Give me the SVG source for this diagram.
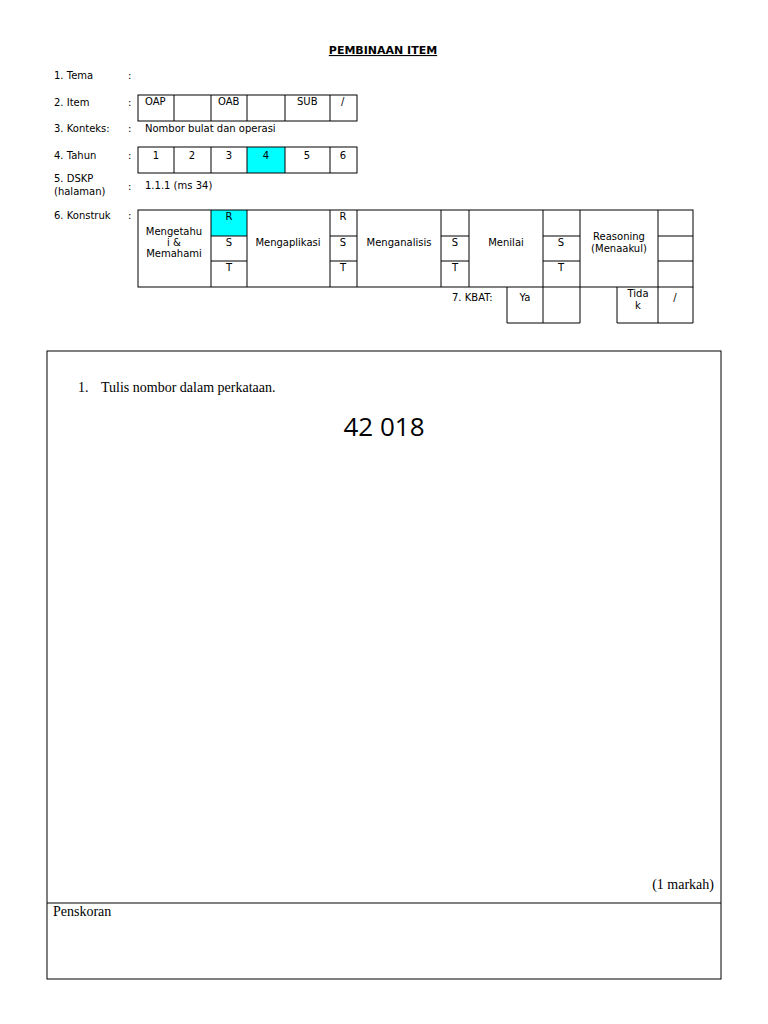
<svg xmlns="http://www.w3.org/2000/svg" width="768" height="1024" viewBox="0 0 768 1024">
<style>
.s{font-family:"DejaVu Sans",sans-serif;font-size:10px;fill:#000}
.c{text-anchor:middle}
.b{fill:none;stroke:#000;stroke-width:1}
.f{font-family:"Liberation Serif",serif;font-size:14px;fill:#000}
</style>
<rect width="768" height="1024" fill="#fff"/>
<text x="383" y="54" class="s c" style="font-size:11px;font-weight:bold;text-decoration:underline">PEMBINAAN ITEM</text>
<g id="labels">
<text x="54" y="79" class="s">1. Tema</text><text x="128" y="79" class="s">:</text>
<text x="54" y="106" class="s">2. Item</text><text x="128" y="106" class="s">:</text>
<text x="54" y="132" class="s">3. Konteks:</text><text x="128" y="132" class="s">:</text>
<text x="145" y="132" class="s">Nombor bulat dan operasi</text>
<text x="54" y="159" class="s">4. Tahun</text><text x="128" y="159" class="s">:</text>
<text x="54" y="182" class="s">5. DSKP</text><text x="54" y="195" class="s">(halaman)</text><text x="128" y="190" class="s">:</text>
<text x="145" y="189" class="s">1.1.1 (ms 34)</text>
<text x="54" y="219" class="s">6. Konstruk</text><text x="128" y="219" class="s">:</text>
</g>
<g id="item">
<rect x="138" y="95" width="219" height="26" class="b"/>
<path d="M174 95V121M211 95V121M247 95V121M285 95V121M330 95V121" class="b"/>
<text x="145" y="105" class="s">OAP</text><text x="218" y="105" class="s">OAB</text>
<text x="297" y="105" class="s">SUB</text><text x="341" y="105" class="s">/</text>
</g>
<g id="tahun">
<rect x="247" y="147" width="38" height="26" fill="#00ffff"/>
<rect x="138" y="147" width="219" height="26" class="b"/>
<path d="M174 147V173M211 147V173M247 147V173M285 147V173M330 147V173" class="b"/>
<text x="156" y="159" class="s c">1</text><text x="192" y="159" class="s c">2</text><text x="229" y="159" class="s c">3</text>
<text x="266" y="159" class="s c">4</text><text x="307" y="159" class="s c">5</text><text x="343" y="159" class="s c">6</text>
</g>
<g id="konstruk">
<rect x="211" y="210" width="36" height="26" fill="#00ffff"/>
<rect x="138" y="210" width="555" height="77" class="b"/>
<path d="M211 210V287M247 210V287M330 210V287M357 210V287M441 210V287M469 210V287M543 210V287M580 210V287M658 210V287
M211 236H247M211 261H247M330 236H357M330 261H357M441 236H469M441 261H469M543 236H580M543 261H580M658 236H693M658 261H693" class="b"/>
<text x="174" y="235" class="s c">Mengetahu</text><text x="174" y="246" class="s c">i &amp;</text><text x="174" y="257" class="s c">Memahami</text>
<text x="229" y="220" class="s c">R</text><text x="229" y="246" class="s c">S</text><text x="229" y="271" class="s c">T</text>
<text x="288" y="246" class="s c">Mengaplikasi</text>
<text x="343" y="220" class="s c">R</text><text x="343" y="246" class="s c">S</text><text x="343" y="271" class="s c">T</text>
<text x="399" y="246" class="s c">Menganalisis</text>
<text x="455" y="246" class="s c">S</text><text x="455" y="271" class="s c">T</text>
<text x="506" y="246" class="s c">Menilai</text>
<text x="561" y="246" class="s c">S</text><text x="561" y="271" class="s c">T</text>
<text x="619" y="240" class="s c">Reasoning</text><text x="619" y="252" class="s c">(Menaakul)</text>
</g>
<g id="kbat">
<path d="M507 287V323H580V287M543 287V323M617 287V323H693V287M658 287V323" class="b"/>
<text x="452" y="301" class="s">7. KBAT:</text>
<text x="525" y="301" class="s c">Ya</text>
<text x="638" y="297" class="s c">Tida</text><text x="638" y="309" class="s c">k</text>
<text x="675" y="301" class="s c">/</text>
</g>
<g id="soalan">
<rect x="47" y="351" width="674" height="628" class="b"/>
<path d="M47 903H721" class="b"/>
<text x="78" y="392" class="f">1.</text><text x="101" y="392" class="f">Tulis nombor dalam perkataan.</text>
<text x="384" y="436" style="font-family:'Open Sans','DejaVu Sans',sans-serif;font-size:26px" text-anchor="middle">42 018</text>
<text x="714" y="889" class="f" text-anchor="end">(1 markah)</text>
<text x="53" y="916" class="f">Penskoran</text>
</g>
</svg>
